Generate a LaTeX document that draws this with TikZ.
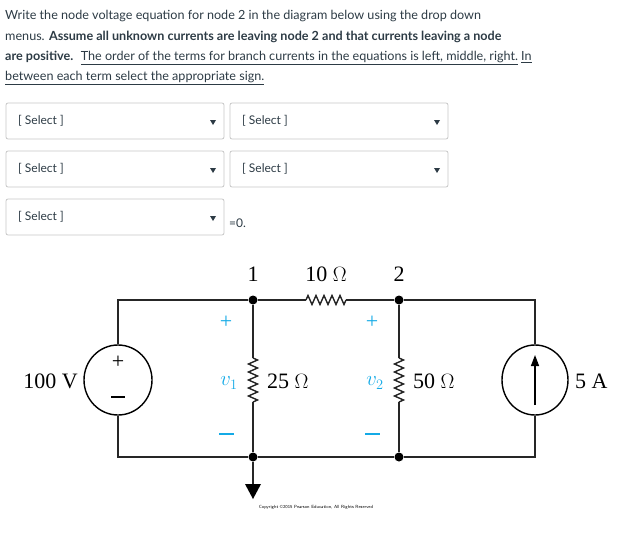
\documentclass[tikz,border=0pt]{standalone}
\usepackage{fontspec}
\setmainfont{Lato}
\newfontfamily\ckt{Liberation Serif}
\usetikzlibrary{decorations.pathmorphing,arrows.meta,shapes.geometric}
\definecolor{txt}{RGB}{45,59,69}
\definecolor{blu}{RGB}{20,170,230}
\begin{document}
\begin{tikzpicture}[x=1pt,y=-1pt,
  qtext/.style={anchor=west,inner sep=0,font=\fontsize{12.6}{14}\selectfont,text=txt},
  selbox/.style={draw=gray!45,rounded corners=2pt,line width=0.8pt},
  seltxt/.style={anchor=west,inner sep=0,font=\fontsize{12}{14}\selectfont,text=txt},
  wire/.style={line width=1.4pt,draw=black!85},
  dot/.style={circle,fill=black,inner sep=0,minimum size=9pt},
  cl/.style={inner sep=0,font=\ckt\fontsize{22}{24}\selectfont},
  bl/.style={inner sep=0,text=blu,font=\ckt\fontsize{22}{24}\selectfont},
  res/.style={wire,decorate,decoration={zigzag,segment length=8pt,amplitude=4.5pt}}]
\useasboundingbox (0,0) rectangle (635,533);
\node[qtext] (l1) at (5,16) {Write the node voltage equation for node 2 in the diagram below using the drop down};
\node[qtext] (l2) at (5,37) {menus. \textbf{Assume all unknown currents are leaving node 2 and that currents leaving a node}};
\node[qtext] (l3) at (5,58) {\textbf{are positive.} \ \underline{The order of the terms for branch currents in the equations is left, middle, right.} \underline{In}};
\node[qtext] (l4) at (5,78) {\underline{between each term select the appropriate sign.}};
\foreach \y [count=\i] in {121,169,217}{
  \draw[selbox] (6,\y-18) rectangle (224,\y+18);
  \node[seltxt] (s\i a) at (18,\y) {[ Select ]};
  \fill[txt] (210,\y-1) -- (216,\y-1) -- (213,\y+4) -- cycle;
}
\foreach \y [count=\i] in {121,169}{
  \draw[selbox] (230,\y-18) rectangle (448,\y+18);
  \node[seltxt] (s\i b) at (242,\y) {[ Select ]};
  \fill[txt] (434,\y-1) -- (440,\y-1) -- (437,\y+4) -- cycle;
}
\node[seltxt] (eq) at (229,223) {=0.};
% circuit
\coordinate (tl) at (118,300); \coordinate (bl) at (118,457);
\coordinate (tr) at (535,300); \coordinate (br) at (535,457);
\node[dot] (n1) at (253,300) {}; \node[dot] (n2) at (399,300) {};
\node[dot] (g1) at (253,457) {}; \node[dot] (g2) at (399,457) {};
\node[draw,line width=1.4pt,ellipse,minimum width=68pt,minimum height=70pt,inner sep=0] (vs) at (118,380) {};
\node[draw,line width=1.4pt,ellipse,minimum width=66pt,minimum height=70pt,inner sep=0] (cs) at (535,380) {};
\draw[wire] (vs.north) -- (tl) -- (n1) -- (306,300);
\draw[res] (306,300) -- (346,300);
\draw[wire] (346,300) -- (n2) -- (tr) -- (cs.north);
\draw[wire] (vs.south) -- (bl) -- (g1) -- (g2) -- (br) -- (cs.south);
\draw[wire] (n1) -- (253,358); \draw[res] (253,358) -- (253,402); \draw[wire] (253,402) -- (g1);
\draw[wire] (n2) -- (399,358); \draw[res] (399,358) -- (399,402); \draw[wire] (399,402) -- (g2);
\draw[wire] (g1) -- (253,484);
\fill (245,484) -- (261,484) -- (253,499) -- cycle;
\draw[line width=1.4pt,-{Triangle[length=11pt,width=8pt]}] (535,405) -- (535,355);
\node[cl] at (118,362) {+}; \draw[line width=1.2pt] (111,397) -- (125,397);
\node[cl,anchor=east] (v100) at (78,381) {100 V};
\node[cl,anchor=west] (a5) at (575,381) {5 A};
\node[cl] (lab1) at (253,274) {1};
\node[cl] (lab2) at (399,274) {2};
\node[cl] (lab10) at (326,274) {10 $\Omega$};
\node[cl,anchor=west] at (267,381) {25 $\Omega$};
\node[cl,anchor=west] at (413,381) {50 $\Omega$};
\node[bl] at (229,383) {$v_1$};
\node[bl] at (375,383) {$v_2$};
\node[bl] at (226,322) {+}; \draw[blu,line width=1.2pt] (219,434) -- (234,434);
\node[bl] at (372,322) {+}; \draw[blu,line width=1.2pt] (365,434) -- (380,434);
\node[inner sep=0,font=\sffamily\fontsize{4.5}{5}\selectfont] (cp) at (316,507) {Copyright \textcopyright 2015 Pearson Education, All Rights Reserved};
\end{tikzpicture}
\end{document}
